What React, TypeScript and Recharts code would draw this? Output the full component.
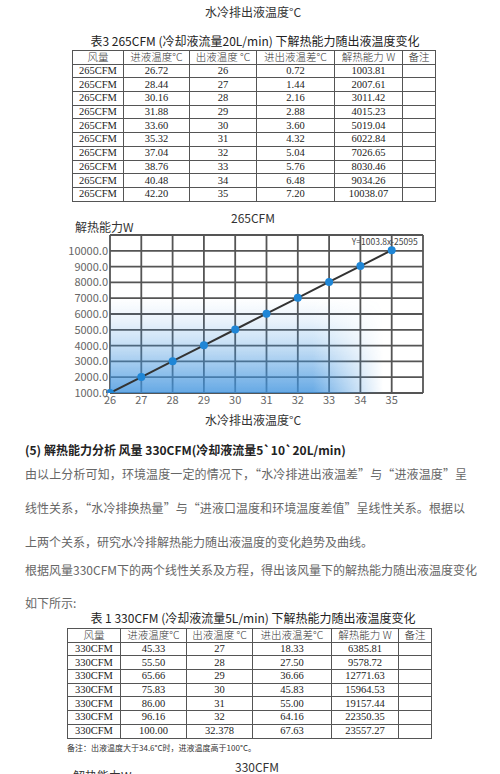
import { LineChart, Line, XAxis, YAxis, CartesianGrid, ReferenceArea, ReferenceDot } from "recharts";

// table 3: 265CFM, 20L/min
const AIRFLOW_265 = "265CFM";
const INLET_265 = ["26.72", "28.44", "30.16", "31.88", "33.60", "35.32", "37.04", "38.76", "40.48", "42.20"];
const OUTLET_265 = [26, 27, 28, 29, 30, 31, 32, 33, 34, 35];
const DELTA_265 = ["0.72", "1.44", "2.16", "2.88", "3.60", "4.32", "5.04", "5.76", "6.48", "7.20"];
const POWER_265 = [1003.81, 2007.61, 3011.42, 4015.23, 5019.04, 6022.84, 7026.65, 8030.46, 9034.26, 10038.07];

// table 1: 330CFM, 5L/min
const AIRFLOW_330 = "330CFM";
const INLET_330 = ["45.33", "55.50", "65.66", "75.83", "86.00", "96.16", "100.00"];
const OUTLET_330 = ["27", "28", "29", "30", "31", "32", "32.378"];
const DELTA_330 = ["18.33", "27.50", "36.66", "45.83", "55.00", "64.16", "67.63"];
const POWER_330 = ["6385.81", "9578.72", "12771.63", "15964.53", "19157.44", "22350.35", "23557.27"];

const HEADERS = ["风量", "进液温度°C", "出液温度 °C", "进出液温差°C", "解热能力 W", "备注"];
const X_TICKS = [26, 27, 28, 29, 30, 31, 32, 33, 34, 35];
const Y_TICKS = [1000, 2000, 3000, 4000, 5000, 6000, 7000, 8000, 9000, 10000];
const EQUATION = "Y=1003.8x-25095";

const SANS = "'Noto Sans CJK SC', 'Noto Sans', sans-serif";
const SERIF = "'Liberation Serif', 'Noto Sans CJK SC', serif";

const chartData = OUTLET_265.map((t, i) => ({ t, w: POWER_265[i] }));

const abs = (top: number, left: number, extra: React.CSSProperties = {}): React.CSSProperties => ({
  position: "absolute",
  top,
  left,
  whiteSpace: "nowrap",
  ...extra,
});

const DataTable = ({
  top,
  left,
  widths,
  rows,
}: {
  top: number;
  left: number;
  widths: number[];
  rows: string[][];
}) => {
  const cell: React.CSSProperties = {
    border: "1px solid #555",
    padding: 0,
    height: 12.7,
    lineHeight: "12px",
    textAlign: "center",
    color: "#222",
  };
  return (
    <table
      style={{
        position: "absolute",
        top,
        left,
        borderCollapse: "collapse",
        border: "1.5px solid #444",
        fontFamily: SERIF,
        fontSize: 10.5,
        tableLayout: "fixed",
        width: widths.reduce((a, b) => a + b, 0),
      }}
    >
      <colgroup>
        {widths.map((w, i) => (
          <col key={i} style={{ width: w }} />
        ))}
      </colgroup>
      <tbody>
        <tr>
          {HEADERS.map((h) => (
            <td key={h} style={{ ...cell, fontFamily: SANS, fontWeight: 300, color: "#333" }}>
              {h}
            </td>
          ))}
        </tr>
        {rows.map((r, i) => (
          <tr key={i}>
            {r.map((v, j) => (
              <td key={j} style={cell}>
                {v}
              </td>
            ))}
          </tr>
        ))}
      </tbody>
    </table>
  );
};

const rows265 = OUTLET_265.map((t, i) => [AIRFLOW_265, INLET_265[i], String(t), DELTA_265[i], POWER_265[i].toFixed(2), ""]);
const rows330 = OUTLET_330.map((t, i) => [AIRFLOW_330, INLET_330[i], t, DELTA_330[i], POWER_330[i], ""]);

const FadeShape = (props: any) => {
  const { x, y, width, height } = props;
  return <rect x={x} y={y} width={width} height={height} fill="url(#blueV)" mask="url(#fadeX)" />;
};

export default function App() {
  const para: React.CSSProperties = { fontFamily: SANS, fontSize: 12, color: "#666", lineHeight: "16px" };
  return (
    <div
      style={{
        position: "absolute",
        left: 0,
        top: 0,
        width: 500,
        height: 774,
        overflow: "hidden",
        background: "#fff",
        fontFamily: SANS,
      }}
    >
      <div style={abs(4, 0, { width: 506, textAlign: "center", fontSize: 12, color: "#333", lineHeight: "16px" })}>
        水冷排出液温度°C
      </div>
      <div style={abs(33, 0, { width: 510, textAlign: "center", fontSize: 12, color: "#222", lineHeight: "16px" })}>
        表3 265CFM (冷却液流量20L/min) 下解热能力随出液温度变化
      </div>
      <DataTable top={50} left={72} widths={[51, 66, 67, 78, 68, 33]} rows={rows265} />

      <div style={abs(210, 0, { width: 506, textAlign: "center", fontSize: 12, color: "#333", lineHeight: "16px" })}>
        265CFM
      </div>
      <div style={abs(219, 75, { fontSize: 12, color: "#333", lineHeight: "16px" })}>解热能力W</div>

      <div style={abs(200, 0)}>
        <LineChart width={500} height={235} data={chartData} margin={{ top: 35, right: 77, left: 40, bottom: 22 }}>
          <defs>
            <linearGradient id="blueV" x1="0" y1="0" x2="0" y2="1">
              <stop offset="0%" stopColor="#3f93de" stopOpacity={0} />
              <stop offset="25%" stopColor="#3f93de" stopOpacity={0.12} />
              <stop offset="55%" stopColor="#3f93de" stopOpacity={0.34} />
              <stop offset="100%" stopColor="#3f93de" stopOpacity={0.8} />
            </linearGradient>
            <linearGradient id="fadeXGrad" x1="0" y1="0" x2="1" y2="0">
              <stop offset="0%" stopColor="#fff" />
              <stop offset="72%" stopColor="#fff" />
              <stop offset="97%" stopColor="#000" />
            </linearGradient>
            <mask id="fadeX" maskContentUnits="objectBoundingBox">
              <rect x={0} y={0} width={1} height={1} fill="url(#fadeXGrad)" />
            </mask>
          </defs>
          <ReferenceArea x1={26} x2={35} y1={1000} y2={7000} shape={FadeShape} ifOverflow="hidden" />
          <CartesianGrid stroke="#555" strokeWidth={1.8} />
          <XAxis
            dataKey="t"
            type="number"
            domain={[26, 36]}
            ticks={X_TICKS}
            interval={0}
            axisLine={false}
            tickLine={false}
            tickSize={0}
            tickMargin={3}
            height={20}
            tick={{ fontSize: 11, fill: "#666", fontFamily: SANS }}
          />
          <YAxis
            type="number"
            domain={[1000, 11000]}
            ticks={Y_TICKS}
            interval={0}
            allowDataOverflow
            axisLine={false}
            tickLine={false}
            tickSize={0}
            tickMargin={2}
            width={70}
            tickFormatter={(v: number) => v.toFixed(1)}
            tick={{ fontSize: 11, fill: "#666", fontFamily: SANS }}
          />
          <Line
            dataKey="w"
            type="linear"
            stroke="#333"
            strokeWidth={2}
            dot={{ r: 4, fill: "#1f86d6", stroke: "none" }}
            isAnimationActive={false}
          />
          <ReferenceDot
            x={35}
            y={POWER_265[POWER_265.length - 1]}
            r={0}
            stroke="none"
            label={(p: any) => (
              <text
                x={p.viewBox.x - 7}
                y={p.viewBox.y - 5}
                textAnchor="middle"
                fontSize={8.5}
                fill="#444"
                fontFamily={SANS}
              >
                {EQUATION}
              </text>
            )}
          />
        </LineChart>
      </div>
      <div style={abs(412, 0, { width: 506, textAlign: "center", fontSize: 12, color: "#333", lineHeight: "16px" })}>
        水冷排出液温度°C
      </div>

      <div style={abs(442, 25, { fontSize: 12, fontWeight: 700, color: "#222", lineHeight: "16px" })}>
        (5) 解热能力分析 风量 330CFM(冷却液流量5`10`20L/min)
      </div>
      <div style={abs(466, 25, { ...para, width: 442, textAlignLast: "justify" })}>
        由以上分析可知，环境温度一定的情况下，“水冷排进出液温差”与“进液温度”呈
      </div>
      <div style={abs(500, 25, { ...para, width: 440, textAlignLast: "justify" })}>
        线性关系，“水冷排换热量”与“进液口温度和环境温度差值”呈线性关系。根据以
      </div>
      <div style={abs(534, 25, para)}>上两个关系，研究水冷排解热能力随出液温度的变化趋势及曲线。</div>
      <div style={abs(562, 25, { ...para, width: 448, textAlignLast: "justify" })}>
        根据风量330CFM下的两个线性关系及方程，得出该风量下的解热能力随出液温度变化
      </div>
      <div style={abs(595, 25, para)}>如下所示:</div>

      <div style={abs(610, 0, { width: 506, textAlign: "center", fontSize: 12, color: "#222", lineHeight: "16px" })}>
        表 1 330CFM (冷却液流量5L/min) 下解热能力随出液温度变化
      </div>
      <DataTable top={628} left={67} widths={[53, 66, 66, 79, 67, 33]} rows={rows330} />
      <div style={abs(743, 67, { fontSize: 8, color: "#333", lineHeight: "10px" })}>
        备注：出液温度大于34.6°C时，进液温度高于100°C。
      </div>
      <div style={abs(759, 0, { width: 514, textAlign: "center", fontSize: 12, color: "#333", lineHeight: "16px" })}>
        330CFM
      </div>
      <div style={abs(768, 73, { fontSize: 12, color: "#333", lineHeight: "16px" })}>解热能力W</div>
    </div>
  );
}
